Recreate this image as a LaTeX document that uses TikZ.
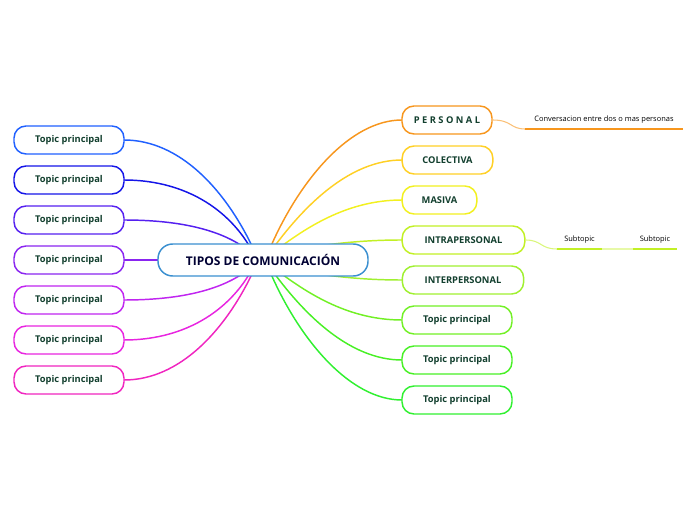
\documentclass[tikz,border=0pt]{standalone}
\usepackage{fontspec}
\setmainfont{Open Sans}
\begin{document}
\begin{tikzpicture}[x=0.75pt,y=-0.75pt,
 topic/.style={draw=#1,line width=1.1pt,rounded corners=9pt,minimum height=21pt,fill=white,font=\bfseries\fontsize{7}{8}\selectfont,text=textc,inner sep=0pt},
 link/.style={draw=#1,line width=1.1pt},
 sub/.style={font=\fontsize{5.6}{6}\selectfont,inner sep=0pt}]
\definecolor{textc}{HTML}{123F2E}
\definecolor{cL1}{HTML}{2060FF}\definecolor{cL2}{HTML}{1515E8}\definecolor{cL3}{HTML}{5520F0}
\definecolor{cL4}{HTML}{8A25F0}\definecolor{cL5}{HTML}{C025F0}\definecolor{cL6}{HTML}{E825E0}\definecolor{cL7}{HTML}{F025C0}
\definecolor{cR1}{HTML}{F7961D}\definecolor{cR2}{HTML}{FFD025}\definecolor{cR3}{HTML}{F2F020}\definecolor{cR4}{HTML}{C2F025}
\definecolor{cR5}{HTML}{A0F030}\definecolor{cR6}{HTML}{72F025}\definecolor{cR7}{HTML}{48F025}\definecolor{cR8}{HTML}{30F030}
\definecolor{cC}{HTML}{3A8FD0}
\useasboundingbox (0,0) rectangle (696,520);
% connectors (drawn first)
\coordinate (cl) at (252,252); \coordinate (cr) at (272,252);
\draw[link=cL1] (252,246) .. controls (225,190) and (180,140) .. (124,140);
\draw[link=cL2] (250,247) .. controls (225,205) and (180,180) .. (124,180);
\draw[link=cL3] (245,248) .. controls (220,230) and (180,220) .. (124,220);
\draw[link=cL4] (158,260) -- (124,260);
\draw[link=cL5] (245,272) .. controls (220,290) and (180,300) .. (124,300);
\draw[link=cL6] (250,273) .. controls (225,315) and (180,340) .. (124,340);
\draw[link=cL7] (252,274) .. controls (225,330) and (180,380) .. (124,380);
\draw[link=cR1] (271,246) .. controls (300,180) and (350,120) .. (402,120);
\draw[link=cR2] (274,247) .. controls (305,205) and (350,160) .. (402,160);
\draw[link=cR3] (279,248) .. controls (310,225) and (350,200) .. (402,200);
\draw[link=cR4] (290,250) .. controls (330,244) and (360,240) .. (402,240);
\draw[link=cR5] (290,270) .. controls (330,276) and (360,280) .. (402,280);
\draw[link=cR6] (279,272) .. controls (310,295) and (350,320) .. (402,320);
\draw[link=cR7] (274,273) .. controls (305,315) and (350,360) .. (402,360);
\draw[link=cR8] (271,274) .. controls (300,340) and (350,400) .. (402,400);
% center
\node[draw=cC,line width=1.1pt,rounded corners=11pt,minimum width=157.5pt,minimum height=24pt,fill=white,font=\bfseries\fontsize{9}{10}\selectfont,text=black!80!blue] (c) at (263,260) {TIPOS DE COMUNICACIÓN};
% left
\foreach \i/\y in {1/140,2/180,3/220,4/260,5/300,6/340,7/380}
 \node[topic=cL\i,minimum width=82.5pt] (l\i) at (69,\y) {Topic principal};
% right
\node[topic=cR1,minimum width=67.5pt] (r1) at (447,120) {P E R S O N A L};
\node[topic=cR2,minimum width=68pt] (r2) at (447.5,160) {COLECTIVA};
\node[topic=cR3,minimum width=56pt] (r3) at (439.5,200) {MASIVA};
\node[topic=cR4,minimum width=92pt] (r4) at (463.5,240) {INTRAPERSONAL};
\node[topic=cR5,minimum width=91pt] (r5) at (463,280) {INTERPERSONAL};
\node[topic=cR6,minimum width=82.5pt] (r6) at (457,320) {Topic principal};
\node[topic=cR7,minimum width=82.5pt] (r7) at (457,360) {Topic principal};
\node[topic=cR8,minimum width=82.5pt] (r8) at (457,400) {Topic principal};
% subtopics
\node[sub] (s1) at (604,120) {Conversacion entre dos o mas personas};
\coordinate (s1a) at (525,129); \coordinate (s1b) at (683,129);
\draw[cR1!60,line width=0.8pt] (r1.east) .. controls (512,120) and (510,129) .. (s1a);
\draw[cR1,line width=1.3pt] (s1a) -- (s1b);
\node[sub] (s2) at (579.5,240) {Subtopic};
\coordinate (s2a) at (557,249); \coordinate (s2b) at (602,249);
\node[sub] (s3) at (655,240) {Subtopic};
\coordinate (s3a) at (633,249); \coordinate (s3b) at (677,249);
\draw[cR4!60,line width=0.8pt] (r4.east) .. controls (542,240) and (540,249) .. (s2a);
\draw[cR4,line width=1.3pt] (s2a) -- (s2b);
\draw[cR4!40,line width=0.8pt] (s2b) -- (s3a);
\draw[cR4,line width=1.3pt] (s3a) -- (s3b);
\end{tikzpicture}
\end{document}
